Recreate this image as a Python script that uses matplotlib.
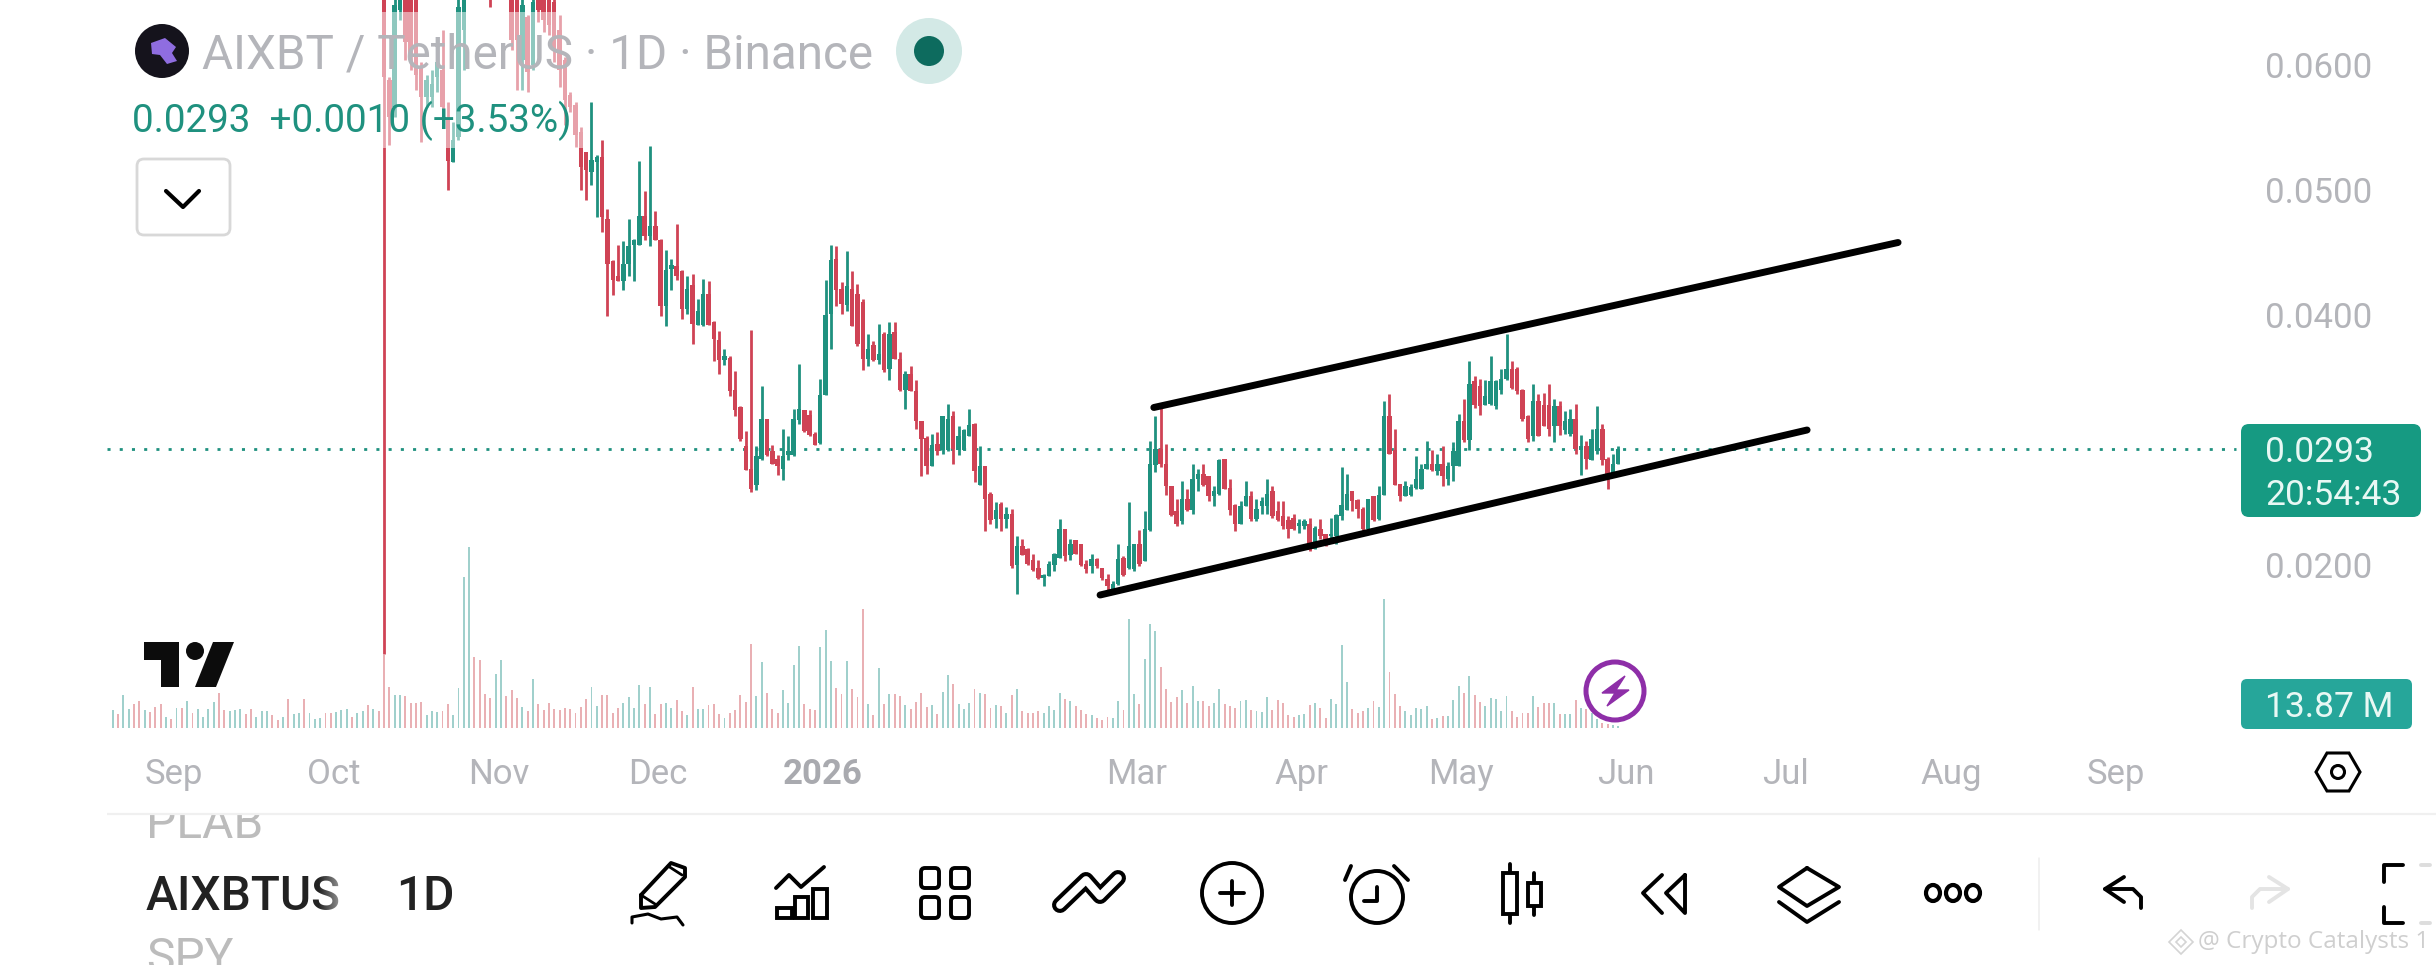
import numpy as np
import matplotlib
matplotlib.use("Agg")
import matplotlib.pyplot as plt
from matplotlib.patches import Circle, Ellipse, FancyBboxPatch, Polygon, Rectangle

plt.rcParams['font.family'] = ['Roboto', 'DejaVu Sans']

# daily candles, first one is the 10 Oct crash
candle_open = [
    .0850, .0588, .0566, .0644, .0720, .0680, .0660, .0598, .0574, .0574,
    .0590, .0596, .0556, .0522, .0542, .0628, .0700, .0710, .0690, .0680,
    .0720, .0680, .0710, .0720, .0720, .0700, .0604, .0638, .0600, .0680,
    .0670, .0660, .0650, .0628, .0604, .0576, .0568, .0546, .0530, .0514,
    .0522, .0526, .0477, .0443, .0431, .0427, .0441, .0456, .0456, .0479,
    .0463, .0471, .0460, .0407, .0437, .0439, .0435, .0405, .0424, .0392,
    .0392, .0417, .0394, .0380, .0364, .0366, .0340, .0326, .0295, .0277,
    .0264, .0285, .0317, .0291, .0285, .0277, .0288, .0288, .0316, .0324,
    .0320, .0305, .0298, .0336, .0401, .0445, .0421, .0408, .0421, .0417,
    .0410, .0365, .0376, .0364, .0385, .0357, .0386, .0365, .0340, .0353,
    .0339, .0315, .0302, .0279, .0297, .0292, .0292, .0319, .0292, .0292,
    .0303, .0313, .0264, .0279, .0257, .0237, .0249, .0237, .0241, .0200,
    .0215, .0213, .0204, .0198, .0190, .0191, .0200, .0206, .0229, .0208,
    .0220, .0217, .0201, .0199, .0205, .0198, .0189, .0181, .0185, .0206,
    .0198, .0197, .0217, .0203, .0228, .0280, .0293, .0281, .0263, .0243,
    .0235, .0253, .0244, .0269, .0273, .0271, .0255, .0257, .0285, .0262,
    .0248, .0233, .0247, .0255, .0237, .0247, .0247, .0259, .0243, .0239,
    .0236, .0238, .0231, .0231, .0233, .0213, .0229, .0225, .0223, .0223,
    .0239, .0244, .0259, .0252, .0245, .0229, .0255, .0237, .0256, .0319,
    .0292, .0265, .0255, .0256, .0262, .0261, .0277, .0281, .0275, .0281,
    .0269, .0279, .0279, .0315, .0300, .0347, .0343, .0328, .0329, .0327,
    .0340, .0349, .0357, .0357, .0340, .0319, .0303, .0331, .0328, .0328,
    .0311, .0327, .0308, .0305, .0317, .0292, .0295, .0284, .0291, .0309,
    .0285, .0272, .0281,
]
candle_high = [
    .0900, .0590, .0670, .0700, .0750, .0700, .0680, .0602, .0592, .0596,
    .0622, .0628, .0570, .0554, .0660, .0680, .0720, .0730, .0710, .0710,
    .0750, .0720, .0740, .0750, .0740, .0720, .0680, .0640, .0680, .0700,
    .0680, .0670, .0670, .0640, .0606, .0578, .0570, .0550, .0530, .0570,
    .0528, .0540, .0485, .0444, .0456, .0459, .0477, .0461, .0523, .0499,
    .0535, .0483, .0461, .0452, .0445, .0473, .0436, .0431, .0433, .0413,
    .0429, .0427, .0395, .0387, .0373, .0367, .0355, .0327, .0307, .0388,
    .0295, .0343, .0317, .0296, .0288, .0309, .0303, .0325, .0361, .0324,
    .0324, .0306, .0349, .0428, .0456, .0455, .0426, .0451, .0435, .0425,
    .0413, .0385, .0379, .0393, .0386, .0394, .0394, .0370, .0355, .0359,
    .0348, .0315, .0303, .0305, .0306, .0319, .0329, .0323, .0311, .0309,
    .0325, .0314, .0295, .0279, .0258, .0250, .0250, .0246, .0245, .0223,
    .0221, .0214, .0209, .0204, .0193, .0203, .0210, .0237, .0229, .0221,
    .0220, .0217, .0204, .0209, .0206, .0198, .0193, .0187, .0217, .0207,
    .0250, .0217, .0228, .0243, .0299, .0319, .0329, .0297, .0263, .0253,
    .0267, .0261, .0281, .0277, .0281, .0271, .0263, .0285, .0285, .0269,
    .0249, .0251, .0267, .0259, .0253, .0254, .0269, .0263, .0251, .0251,
    .0239, .0241, .0237, .0237, .0238, .0231, .0237, .0225, .0238, .0241,
    .0278, .0273, .0259, .0253, .0246, .0253, .0255, .0263, .0331, .0337,
    .0309, .0265, .0267, .0265, .0287, .0281, .0299, .0292, .0289, .0295,
    .0282, .0298, .0321, .0333, .0363, .0351, .0349, .0348, .0367, .0348,
    .0357, .0385, .0363, .0358, .0341, .0320, .0345, .0337, .0338, .0345,
    .0333, .0331, .0323, .0325, .0329, .0304, .0299, .0309, .0327, .0313,
    .0286, .0289, .0295,
]
candle_low = [
    .0129, .0536, .0558, .0636, .0604, .0596, .0580, .0538, .0566, .0566,
    .0578, .0565, .0500, .0522, .0540, .0596, .0670, .0680, .0670, .0665,
    .0646, .0670, .0680, .0690, .0612, .0580, .0580, .0578, .0596, .0634,
    .0626, .0624, .0602, .0582, .0552, .0562, .0534, .0500, .0492, .0504,
    .0478, .0466, .0399, .0416, .0427, .0420, .0431, .0427, .0456, .0460,
    .0455, .0460, .0399, .0391, .0420, .0428, .0397, .0401, .0377, .0392,
    .0391, .0392, .0363, .0353, .0360, .0335, .0319, .0299, .0276, .0258,
    .0260, .0284, .0287, .0281, .0272, .0268, .0284, .0287, .0313, .0306,
    .0303, .0296, .0297, .0336, .0373, .0407, .0401, .0403, .0391, .0375,
    .0356, .0359, .0363, .0361, .0354, .0348, .0365, .0339, .0325, .0339,
    .0309, .0271, .0273, .0279, .0288, .0289, .0291, .0281, .0288, .0292,
    .0303, .0266, .0264, .0227, .0233, .0230, .0227, .0230, .0198, .0177,
    .0208, .0200, .0195, .0189, .0183, .0191, .0195, .0206, .0203, .0204,
    .0209, .0199, .0194, .0194, .0198, .0188, .0179, .0179, .0184, .0191,
    .0197, .0195, .0199, .0203, .0227, .0274, .0278, .0256, .0239, .0231,
    .0233, .0243, .0241, .0259, .0263, .0251, .0247, .0256, .0261, .0240,
    .0227, .0233, .0247, .0235, .0235, .0241, .0241, .0238, .0235, .0229,
    .0222, .0228, .0226, .0229, .0211, .0213, .0221, .0215, .0222, .0217,
    .0236, .0244, .0243, .0238, .0227, .0229, .0235, .0236, .0256, .0289,
    .0264, .0251, .0255, .0255, .0261, .0261, .0277, .0275, .0272, .0263,
    .0264, .0267, .0279, .0298, .0292, .0326, .0320, .0328, .0328, .0325,
    .0337, .0348, .0341, .0337, .0315, .0298, .0299, .0303, .0311, .0303,
    .0298, .0304, .0305, .0303, .0289, .0272, .0277, .0284, .0289, .0280,
    .0261, .0271, .0281,
]
candle_close = [
    .0590, .0558, .0648, .0670, .0618, .0608, .0592, .0574, .0588, .0585,
    .0602, .0566, .0523, .0540, .0646, .0670, .0710, .0690, .0680, .0670,
    .0680, .0710, .0720, .0700, .0620, .0620, .0648, .0594, .0650, .0644,
    .0636, .0632, .0612, .0596, .0572, .0566, .0544, .0518, .0516, .0524,
    .0526, .0478, .0441, .0428, .0427, .0441, .0455, .0460, .0479, .0463,
    .0471, .0460, .0407, .0436, .0440, .0431, .0405, .0421, .0393, .0403,
    .0417, .0392, .0381, .0364, .0367, .0339, .0324, .0301, .0276, .0261,
    .0287, .0317, .0288, .0281, .0279, .0287, .0291, .0317, .0325, .0307,
    .0304, .0296, .0336, .0400, .0444, .0420, .0409, .0423, .0391, .0377,
    .0365, .0373, .0364, .0369, .0356, .0385, .0365, .0340, .0353, .0339,
    .0315, .0301, .0279, .0296, .0291, .0319, .0317, .0293, .0303, .0308,
    .0312, .0275, .0279, .0253, .0236, .0244, .0237, .0241, .0199, .0215,
    .0208, .0201, .0196, .0190, .0192, .0201, .0209, .0229, .0207, .0217,
    .0209, .0200, .0197, .0205, .0199, .0190, .0183, .0185, .0205, .0192,
    .0215, .0217, .0201, .0229, .0281, .0293, .0281, .0263, .0240, .0233,
    .0253, .0244, .0269, .0273, .0264, .0255, .0259, .0284, .0261, .0244,
    .0233, .0247, .0255, .0237, .0245, .0251, .0257, .0239, .0236, .0231,
    .0229, .0229, .0234, .0235, .0212, .0230, .0223, .0217, .0225, .0240,
    .0248, .0257, .0251, .0245, .0229, .0253, .0236, .0256, .0319, .0289,
    .0264, .0255, .0263, .0262, .0269, .0277, .0281, .0276, .0281, .0271,
    .0279, .0291, .0315, .0300, .0345, .0328, .0327, .0335, .0347, .0347,
    .0349, .0357, .0342, .0339, .0317, .0301, .0331, .0303, .0311, .0309,
    .0327, .0311, .0315, .0317, .0293, .0295, .0285, .0301, .0309, .0284,
    .0269, .0281, .0293,
]

# volume bars start 51 days before the first candle, relative heights
volume_before = [
    18, 14, 33, 19, 24, 27, 18, 16, 21, 24, 11, 9, 20, 20, 27, 15, 19, 11, 19, 26,
    35, 18, 17, 18, 19, 14, 19, 11, 17, 17, 13, 8, 11, 29, 14, 15, 29, 15, 9, 10,
    15, 15, 16, 18, 19, 11, 15, 17, 23, 19, 17,
]
volume_before_up = [
    1, 0, 1, 1, 0, 0, 1, 0, 0, 0, 1, 0, 1, 0, 1, 0, 1, 1, 1, 1,
    0, 0, 1, 1, 1, 0, 0, 1, 1, 1, 0, 0, 1, 0, 1, 1, 0, 1, 1, 1,
    0, 0, 1, 1, 1, 0, 1, 1, 0, 1, 0,
]
volume_candles = [
    73, 41, 33, 33, 32, 25, 25, 26, 13, 17, 16, 17, 24, 13, 40, 151, 181, 71, 68, 34,
    30, 54, 68, 32, 38, 30, 21, 17, 49, 24, 18, 25, 19, 18, 20, 19, 15, 21, 29, 41,
    22, 33, 33, 15, 20, 25, 31, 20, 43, 24, 41, 14, 24, 25, 20, 28, 17, 13, 41, 19,
    19, 23, 24, 14, 10, 15, 18, 33, 26, 84, 32, 66, 35, 19, 15, 38, 25, 63, 82, 24,
    19, 18, 81, 98, 67, 40, 34, 67, 39, 31, 119, 24, 13, 60, 24, 34, 34, 32, 23, 19,
    26, 35, 21, 23, 14, 36, 53, 44, 24, 19, 25, 39, 35, 34, 20, 23, 22, 15, 33, 39,
    17, 15, 15, 17, 15, 22, 18, 35, 29, 27, 22, 18, 14, 13, 10, 8, 11, 10, 27, 18,
    109, 34, 24, 69, 104, 97, 61, 39, 26, 31, 38, 25, 42, 27, 27, 22, 25, 39, 24, 22,
    20, 27, 28, 18, 17, 16, 31, 18, 28, 25, 13, 11, 13, 14, 23, 25, 20, 10, 29, 24,
    83, 46, 19, 15, 17, 20, 27, 21, 129, 56, 34, 22, 17, 13, 20, 19, 22, 9, 10, 12,
    12, 28, 42, 35, 52, 33, 26, 22, 30, 29, 17, 32, 17, 11, 15, 15, 32, 21, 25, 25,
    25, 14, 14, 14, 28, 20, 19, 15, 9, 5, 4, 3, 2,
]

last_price = 0.0293
price_ticks = [0.06, 0.05, 0.04, 0.02]
price_tick_labels = ['0.0600', '0.0500', '0.0400', '0.0200']

# days counted from the first candle
month_days = [-39, -9, 22, 52, 83, 142, 173, 203, 234, 264, 295, 326]
month_labels = ['Sep', 'Oct', 'Nov', 'Dec', '2026', 'Mar', 'Apr', 'May', 'Jun', 'Jul', 'Aug', 'Sep']

# the two hand drawn channel lines: (day, price) at each end
channel_top = ([144.7, 284.6], [0.0326, 0.0458])
channel_bottom = ([134.6, 267.5], [0.0176, 0.0308])

TEAL = '#1f917f'
RED = '#cf4355'
TEAL_VOL = '#a0d0cc'
RED_VOL = '#e9b0b4'
GREY = '#b4b5ba'

W, H = 2436, 965
PX_PER_DAY = 5.32
X0 = 384.0  # pixel of day 0
fig = plt.figure(figsize=(W / 100, H / 100), dpi=100, facecolor='white')

# price and volume share the whole canvas, scales set so ticks land where they should
x_limits = ((0 - X0) / PX_PER_DAY, (W - X0) / PX_PER_DAY)
ax_vol = fig.add_axes([0, 0, 1, 1])
ax_vol.set_xlim(*x_limits)
ax_vol.set_ylim(-(H - 728), 728)
ax_vol.axis('off')
ax_vol.set_zorder(1)

ax = fig.add_axes([0, 0, 1, 1])
ax.set_xlim(*x_limits)
ax.set_ylim(0.06 - (H - 65) / 12500, 0.06 + 65 / 12500)
ax.axis('off')
ax.set_zorder(2)
ax.patch.set_visible(False)

ui = fig.add_axes([0, 0, 1, 1])
ui.set_xlim(0, W)
ui.set_ylim(H, 0)
ui.axis('off')
ui.set_zorder(3)
ui.patch.set_visible(False)

# volume
candle_open = np.array(candle_open)
candle_high = np.array(candle_high)
candle_low = np.array(candle_low)
candle_close = np.array(candle_close)
days = np.arange(len(candle_open))
up = candle_close >= candle_open

vol_days = np.arange(-len(volume_before), len(volume_candles))
vol_values = list(volume_before) + list(volume_candles)
vol_up = [bool(v) for v in volume_before_up] + list(up)
ax_vol.bar(vol_days, vol_values, width=0.36,
           color=[TEAL_VOL if u else RED_VOL for u in vol_up], linewidth=0)

# last price line goes behind the candles
ax.plot([(107 - X0) / PX_PER_DAY, (2236 - X0) / PX_PER_DAY], [last_price, last_price],
        color=TEAL, lw=2, linestyle=(0, (1.1, 3.3)), dash_capstyle='butt', zorder=1)

# candles
colors = np.where(up, TEAL, RED)
ax.vlines(days, candle_low, candle_high, colors=colors, lw=2.0, zorder=2)
body_low = np.minimum(candle_open, candle_close)
body_size = np.abs(candle_close - candle_open)
ax.bar(days, body_size, bottom=body_low, width=0.84, color=colors, linewidth=0, zorder=3)

# channel
for line_x, line_y in (channel_top, channel_bottom):
    ax.plot(line_x, line_y, color='black', lw=5, solid_capstyle='round', zorder=4)

# axis labels are drawn inside the chart
tick_x = (2265 - X0) / PX_PER_DAY
for value, label in zip(price_ticks, price_tick_labels):
    ax.text(tick_x, value, label, color=GREY, fontsize=25, ha='left', va='center_baseline')

month_tf = ax.get_xaxis_transform()
for day, label in zip(month_days, month_labels):
    bold = label == '2026'
    ax.text(day - 0.5, 1 - 784 / H, label, transform=month_tf, ha='center', va='baseline',
            fontsize=25, color='#a9aaaf' if bold else GREY, fontweight='bold' if bold else 'normal')


def line(pts, color='black', lw=2.8, **kw):
    xs, ys = zip(*pts)
    ui.plot(xs, ys, color=color, lw=lw, solid_capstyle=kw.pop('cap', 'round'),
            solid_joinstyle='round', **kw)


def box(x, y, w, h, **kw):
    ui.add_patch(FancyBboxPatch((x, y), w, h, boxstyle='round,pad=0,rounding_size=%g' % kw.pop('r', 5), **kw))


# legend block washes out the candles below it
ui.add_patch(Rectangle((130, 12), 460, 136, facecolor='white', alpha=0.5, linewidth=0, zorder=1))

ui.add_patch(Circle((162, 51), 27, facecolor='#15131c', linewidth=0, zorder=2))
ui.add_patch(Polygon([(151, 43), (165, 38), (176, 47), (172, 53), (177, 61), (167, 64), (160, 55), (152, 54)],
                     facecolor='#8f6de0', linewidth=0, zorder=3))
ui.text(202, 68, 'AIXBT / TetherUS · 1D · Binance', color=GREY, fontsize=34.3, va='baseline', zorder=3)
ui.add_patch(Circle((929, 51), 33, facecolor='#d3e9e6', linewidth=0))
ui.add_patch(Circle((929, 51), 15, facecolor='#0d6b5e', linewidth=0))
ui.text(132, 132, '0.0293  +0.0010 (+3.53%)', color=TEAL, fontsize=27.8, va='baseline', zorder=3)

box(137, 159, 93, 76, r=7, facecolor='white', edgecolor='#d8d8d8', lw=2)
line([(166, 191), (183, 207), (199, 191)], lw=3)

# TradingView mark
ui.add_patch(Polygon([(144, 642), (179, 642), (179, 687), (161, 687), (161, 660), (144, 660)],
                     facecolor='#0c0c0c', linewidth=0))
ui.add_patch(Circle((195, 651), 9, facecolor='#0c0c0c', linewidth=0))
ui.add_patch(Polygon([(213, 642), (234, 642), (216, 687), (195, 687)], facecolor='#0c0c0c', linewidth=0))

# earnings bolt
ui.add_patch(Circle((1615, 691), 29, facecolor='white', edgecolor='#8e2ea8', lw=3.6))
ui.add_patch(Polygon([(1625, 676), (1602, 693), (1615, 693), (1607, 706), (1629, 690), (1616, 690)],
                     facecolor='#8e2ea8', edgecolor='#8e2ea8', lw=1))

# price and volume tags
box(2241, 424, 180, 93, r=8, facecolor='#169a82', linewidth=0)
ui.text(2265, 462, '0.0293', color='#e8f8f4', fontsize=25.5, va='baseline')
ui.text(2265, 505, '20:54:43', color='#e8f8f4', fontsize=25.5, va='baseline')
box(2241, 679, 171, 50, r=6, facecolor='#26a69a', linewidth=0)
ui.text(2265, 717, '13.87 M', color='#e8f8f4', fontsize=25.5, va='baseline')

# settings hexagon
ui.add_patch(Polygon([(2316, 772), (2327, 753), (2349, 753), (2360, 772), (2349, 791), (2327, 791)],
                     facecolor='none', edgecolor='black', lw=2.2))
ui.add_patch(Circle((2338, 772), 6.5, facecolor='none', edgecolor='black', lw=2.2))

# symbol picker, neighbours scrolled half out of view
ui.text(146, 838, 'PLAB', color='#bcbcbc', fontsize=34.5, va='baseline', zorder=1)
ui.add_patch(Rectangle((130, 792), 200, 22, facecolor='white', linewidth=0, zorder=2))
line([(107, 814), (W, 814)], color='#f0f0f0', lw=1.6, cap='butt', zorder=3)
ui.text(146, 910, 'AIXBTUS', color='#222222', fontsize=34.5, fontweight='medium', va='baseline')
ui.text(396, 910, '1D', color='#222222', fontsize=34.5, fontweight='medium', va='baseline')
fade = np.ones((1, 32, 4))
fade[0, :, 3] = np.linspace(0, 0.75, 32)
ui.imshow(fade, extent=(318, 350, 920, 870), aspect='auto', zorder=4)
ui.text(146, 972, 'SPY', color='#bcbcbc', fontsize=34.5, va='baseline', clip_on=True)
ui.set_xlim(0, W)
ui.set_ylim(H, 0)

# toolbar: pencil
line([(641, 895), (671, 863), (685, 868), (685, 877), (655, 907), (641, 908), (641, 895)])
line([(668, 866), (682, 875)], lw=2)
line([(641, 895), (655, 904)], lw=2)
line([(632, 923), (632, 917), (648, 914), (661, 919), (677, 917), (683, 925)], lw=2.2)
# indicators
line([(776, 888), (789, 875), (801, 887), (824, 867)])
for x0, x1, top in [(777, 792, 908), (795, 808, 897), (813, 827, 889)]:
    ui.add_patch(Rectangle((x0, top), x1 - x0, 918 - top, facecolor='none', edgecolor='black', lw=2.8))
# layouts
for x, y, w, h in [(921, 868, 18, 20), (951, 868, 18, 20), (921, 897, 18, 21), (951, 897, 18, 21)]:
    box(x, y, w, h, r=4, facecolor='none', edgecolor='black', lw=2.8)
# alerts ribbon: thick black stroke with a white one inside
line([(1060, 905), (1086, 880), (1100, 896), (1118, 878)], lw=11.5)
line([(1060, 905), (1086, 880), (1100, 896), (1118, 878)], color='white', lw=5.6)
# add
ui.add_patch(Circle((1232, 893), 30, facecolor='none', edgecolor='black', lw=2.8))
line([(1220, 893), (1244, 893)])
line([(1232, 881), (1232, 905)])
# alarm
ui.add_patch(Circle((1377, 897), 26, facecolor='none', edgecolor='black', lw=2.8))
line([(1377, 887), (1377, 901), (1364, 901)])
line([(1351, 866), (1345, 880)])
line([(1394, 866), (1408, 880)])
# candle type
line([(1510, 864), (1510, 923)])
ui.add_patch(Rectangle((1503, 873), 14, 41, facecolor='white', edgecolor='black', lw=2.8, zorder=3))
line([(1534, 873), (1534, 915)])
ui.add_patch(Rectangle((1528, 883), 13, 23, facecolor='white', edgecolor='black', lw=2.8, zorder=3))
# replay
line([(1662, 875), (1643, 893), (1662, 913)])
line([(1685, 875), (1666, 893), (1685, 913), (1685, 875)])
# layers
line([(1807, 868), (1839, 887), (1807, 906), (1779, 887), (1807, 868)])
line([(1779, 902), (1807, 922), (1839, 902)])
# more
for x in (1933, 1953, 1973):
    ui.add_patch(Ellipse((x, 893), 14, 16, facecolor='none', edgecolor='black', lw=3))
line([(2039, 858), (2039, 930)], color='#eeeeee', lw=1.1)
# undo, redo
line([(2141, 908), (2141, 897), (2133, 889), (2105, 889)])
line([(2124, 877), (2105, 889), (2124, 902)])
line([(2252, 908), (2252, 897), (2260, 889), (2288, 889)], color='#e4e4e4')
line([(2269, 877), (2288, 889), (2269, 902)], color='#e4e4e4')
# fullscreen
line([(2403, 865), (2384, 865), (2384, 882)])
line([(2384, 907), (2384, 923), (2403, 923)])
line([(2421, 865), (2430, 865)], color='#dddddd')
line([(2421, 923), (2430, 923)], color='#dddddd')

# watermark
ui.add_patch(Polygon([(2181, 930), (2193, 942), (2181, 954), (2169, 942)], facecolor='none', edgecolor='#d4d4d4', lw=1.2))
ui.add_patch(Polygon([(2181, 937), (2186, 942), (2181, 947), (2176, 942)], facecolor='none', edgecolor='#d4d4d4', lw=1.2))
ui.text(2198, 948, '@ Crypto Catalysts 1', color='#cfcfcf', fontsize=17.5,
        family=['Open Sans', 'DejaVu Sans'], va='baseline')

fig.savefig('out.png', dpi=100)
